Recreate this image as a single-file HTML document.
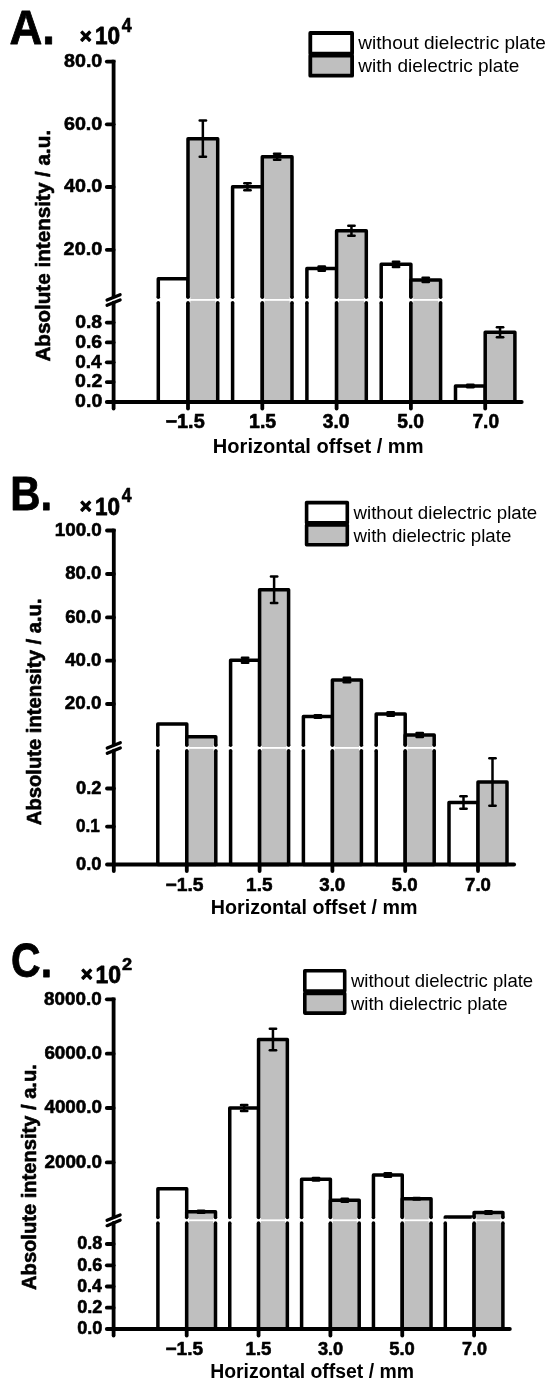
<!DOCTYPE html>
<html><head><meta charset="utf-8"><title>Figure</title>
<style>html,body{margin:0;padding:0;background:#fff}svg{display:block}text{font-family:"Liberation Sans",sans-serif;fill:#000}</style>
</head><body>
<svg width="550" height="1388" viewBox="0 0 550 1388">
<rect width="550" height="1388" fill="#fff"/>
<rect x="158.30" y="278.70" width="29.70" height="123.30" fill="#fff" stroke="#000" stroke-width="3.5" stroke-linejoin="round"/>
<rect x="188.00" y="138.70" width="29.70" height="263.30" fill="#bfbfbf" stroke="#000" stroke-width="3.5" stroke-linejoin="round"/>
<rect x="232.60" y="186.70" width="29.70" height="215.30" fill="#fff" stroke="#000" stroke-width="3.5" stroke-linejoin="round"/>
<rect x="262.30" y="156.70" width="29.70" height="245.30" fill="#bfbfbf" stroke="#000" stroke-width="3.5" stroke-linejoin="round"/>
<rect x="306.90" y="268.60" width="29.70" height="133.40" fill="#fff" stroke="#000" stroke-width="3.5" stroke-linejoin="round"/>
<rect x="336.60" y="230.80" width="29.70" height="171.20" fill="#bfbfbf" stroke="#000" stroke-width="3.5" stroke-linejoin="round"/>
<rect x="381.20" y="264.30" width="29.70" height="137.70" fill="#fff" stroke="#000" stroke-width="3.5" stroke-linejoin="round"/>
<rect x="410.90" y="279.90" width="29.70" height="122.10" fill="#bfbfbf" stroke="#000" stroke-width="3.5" stroke-linejoin="round"/>
<rect x="455.50" y="386.00" width="29.70" height="16.00" fill="#fff" stroke="#000" stroke-width="3.5" stroke-linejoin="round"/>
<rect x="485.20" y="332.20" width="29.70" height="69.80" fill="#bfbfbf" stroke="#000" stroke-width="3.5" stroke-linejoin="round"/>
<rect x="156.10" y="299.00" width="63.80" height="1.8" fill="#fff"/>
<rect x="155.90" y="297.10" width="4.8" height="5.60" fill="#fff"/>
<circle cx="158.30" cy="297.15" r="1.75" fill="#000"/>
<circle cx="158.30" cy="302.65" r="1.75" fill="#000"/>
<rect x="185.60" y="297.10" width="4.8" height="5.60" fill="#fff"/>
<circle cx="188.00" cy="297.15" r="1.75" fill="#000"/>
<circle cx="188.00" cy="302.65" r="1.75" fill="#000"/>
<rect x="215.30" y="297.10" width="4.8" height="5.60" fill="#fff"/>
<circle cx="217.70" cy="297.15" r="1.75" fill="#000"/>
<circle cx="217.70" cy="302.65" r="1.75" fill="#000"/>
<rect x="230.40" y="299.00" width="63.80" height="1.8" fill="#fff"/>
<rect x="230.20" y="297.10" width="4.8" height="5.60" fill="#fff"/>
<circle cx="232.60" cy="297.15" r="1.75" fill="#000"/>
<circle cx="232.60" cy="302.65" r="1.75" fill="#000"/>
<rect x="259.90" y="297.10" width="4.8" height="5.60" fill="#fff"/>
<circle cx="262.30" cy="297.15" r="1.75" fill="#000"/>
<circle cx="262.30" cy="302.65" r="1.75" fill="#000"/>
<rect x="289.60" y="297.10" width="4.8" height="5.60" fill="#fff"/>
<circle cx="292.00" cy="297.15" r="1.75" fill="#000"/>
<circle cx="292.00" cy="302.65" r="1.75" fill="#000"/>
<rect x="304.70" y="299.00" width="63.80" height="1.8" fill="#fff"/>
<rect x="304.50" y="297.10" width="4.8" height="5.60" fill="#fff"/>
<circle cx="306.90" cy="297.15" r="1.75" fill="#000"/>
<circle cx="306.90" cy="302.65" r="1.75" fill="#000"/>
<rect x="334.20" y="297.10" width="4.8" height="5.60" fill="#fff"/>
<circle cx="336.60" cy="297.15" r="1.75" fill="#000"/>
<circle cx="336.60" cy="302.65" r="1.75" fill="#000"/>
<rect x="363.90" y="297.10" width="4.8" height="5.60" fill="#fff"/>
<circle cx="366.30" cy="297.15" r="1.75" fill="#000"/>
<circle cx="366.30" cy="302.65" r="1.75" fill="#000"/>
<rect x="379.00" y="299.00" width="63.80" height="1.8" fill="#fff"/>
<rect x="378.80" y="297.10" width="4.8" height="5.60" fill="#fff"/>
<circle cx="381.20" cy="297.15" r="1.75" fill="#000"/>
<circle cx="381.20" cy="302.65" r="1.75" fill="#000"/>
<rect x="408.50" y="297.10" width="4.8" height="5.60" fill="#fff"/>
<circle cx="410.90" cy="297.15" r="1.75" fill="#000"/>
<circle cx="410.90" cy="302.65" r="1.75" fill="#000"/>
<rect x="438.20" y="297.10" width="4.8" height="5.60" fill="#fff"/>
<circle cx="440.60" cy="297.15" r="1.75" fill="#000"/>
<circle cx="440.60" cy="302.65" r="1.75" fill="#000"/>
<line x1="202.85" y1="120.55" x2="202.85" y2="156.85" stroke="#000" stroke-width="2.5" stroke-linecap="butt"/>
<line x1="199.70" y1="120.55" x2="206.00" y2="120.55" stroke="#000" stroke-width="2.5" stroke-linecap="round"/>
<line x1="199.70" y1="156.85" x2="206.00" y2="156.85" stroke="#000" stroke-width="2.5" stroke-linecap="round"/>
<line x1="247.45" y1="183.15" x2="247.45" y2="190.25" stroke="#000" stroke-width="2.5" stroke-linecap="butt"/>
<line x1="244.30" y1="183.15" x2="250.60" y2="183.15" stroke="#000" stroke-width="2.5" stroke-linecap="round"/>
<line x1="244.30" y1="190.25" x2="250.60" y2="190.25" stroke="#000" stroke-width="2.5" stroke-linecap="round"/>
<line x1="277.15" y1="153.65" x2="277.15" y2="159.75" stroke="#000" stroke-width="2.5" stroke-linecap="butt"/>
<line x1="274.00" y1="153.65" x2="280.30" y2="153.65" stroke="#000" stroke-width="2.5" stroke-linecap="round"/>
<line x1="274.00" y1="159.75" x2="280.30" y2="159.75" stroke="#000" stroke-width="2.5" stroke-linecap="round"/>
<line x1="321.75" y1="266.55" x2="321.75" y2="270.65" stroke="#000" stroke-width="2.5" stroke-linecap="butt"/>
<line x1="318.60" y1="266.55" x2="324.90" y2="266.55" stroke="#000" stroke-width="2.5" stroke-linecap="round"/>
<line x1="318.60" y1="270.65" x2="324.90" y2="270.65" stroke="#000" stroke-width="2.5" stroke-linecap="round"/>
<line x1="351.45" y1="225.75" x2="351.45" y2="235.85" stroke="#000" stroke-width="2.5" stroke-linecap="butt"/>
<line x1="348.30" y1="225.75" x2="354.60" y2="225.75" stroke="#000" stroke-width="2.5" stroke-linecap="round"/>
<line x1="348.30" y1="235.85" x2="354.60" y2="235.85" stroke="#000" stroke-width="2.5" stroke-linecap="round"/>
<line x1="396.05" y1="261.65" x2="396.05" y2="266.95" stroke="#000" stroke-width="2.5" stroke-linecap="butt"/>
<line x1="392.90" y1="261.65" x2="399.20" y2="261.65" stroke="#000" stroke-width="2.5" stroke-linecap="round"/>
<line x1="392.90" y1="266.95" x2="399.20" y2="266.95" stroke="#000" stroke-width="2.5" stroke-linecap="round"/>
<line x1="425.75" y1="277.75" x2="425.75" y2="282.05" stroke="#000" stroke-width="2.5" stroke-linecap="butt"/>
<line x1="422.60" y1="277.75" x2="428.90" y2="277.75" stroke="#000" stroke-width="2.5" stroke-linecap="round"/>
<line x1="422.60" y1="282.05" x2="428.90" y2="282.05" stroke="#000" stroke-width="2.5" stroke-linecap="round"/>
<line x1="470.35" y1="384.85" x2="470.35" y2="387.15" stroke="#000" stroke-width="2.5" stroke-linecap="butt"/>
<line x1="467.20" y1="384.85" x2="473.50" y2="384.85" stroke="#000" stroke-width="2.5" stroke-linecap="round"/>
<line x1="467.20" y1="387.15" x2="473.50" y2="387.15" stroke="#000" stroke-width="2.5" stroke-linecap="round"/>
<line x1="500.05" y1="327.25" x2="500.05" y2="337.15" stroke="#000" stroke-width="2.5" stroke-linecap="butt"/>
<line x1="496.90" y1="327.25" x2="503.20" y2="327.25" stroke="#000" stroke-width="2.5" stroke-linecap="round"/>
<line x1="496.90" y1="337.15" x2="503.20" y2="337.15" stroke="#000" stroke-width="2.5" stroke-linecap="round"/>
<line x1="113.60" y1="59.80" x2="113.60" y2="297.35" stroke="#000" stroke-width="3.8" stroke-linecap="butt"/>
<line x1="113.60" y1="302.65" x2="113.60" y2="408.60" stroke="#000" stroke-width="3.8" stroke-linecap="round"/>
<line x1="113.60" y1="402.00" x2="521.75" y2="402.00" stroke="#000" stroke-width="3.8" stroke-linecap="round"/>
<line x1="107.10" y1="300.05" x2="120.10" y2="294.65" stroke="#000" stroke-width="3.3" stroke-linecap="round"/>
<line x1="107.10" y1="305.35" x2="120.10" y2="299.95" stroke="#000" stroke-width="3.3" stroke-linecap="round"/>
<line x1="106.80" y1="61.60" x2="113.60" y2="61.60" stroke="#000" stroke-width="3.8" stroke-linecap="round"/>
<text transform="translate(64.07,66.90) scale(1.0226,1)" font-size="19.21" font-weight="bold" stroke="#000" stroke-width="0.6" stroke-linejoin="round">80.0</text>
<line x1="106.80" y1="124.30" x2="113.60" y2="124.30" stroke="#000" stroke-width="3.8" stroke-linecap="round"/>
<text transform="translate(63.97,129.60) scale(1.0253,1)" font-size="19.21" font-weight="bold" stroke="#000" stroke-width="0.6" stroke-linejoin="round">60.0</text>
<line x1="106.80" y1="187.00" x2="113.60" y2="187.00" stroke="#000" stroke-width="3.8" stroke-linecap="round"/>
<text transform="translate(64.01,192.30) scale(1.0241,1)" font-size="19.21" font-weight="bold" stroke="#000" stroke-width="0.6" stroke-linejoin="round">40.0</text>
<line x1="106.80" y1="249.80" x2="113.60" y2="249.80" stroke="#000" stroke-width="3.8" stroke-linecap="round"/>
<text transform="translate(63.61,255.10) scale(1.0349,1)" font-size="19.21" font-weight="bold" stroke="#000" stroke-width="0.6" stroke-linejoin="round">20.0</text>
<line x1="106.80" y1="322.60" x2="113.60" y2="322.60" stroke="#000" stroke-width="3.8" stroke-linecap="round"/>
<text transform="translate(75.13,327.90) scale(1.0093,1)" font-size="19.21" font-weight="bold" stroke="#000" stroke-width="0.6" stroke-linejoin="round">0.8</text>
<line x1="106.80" y1="342.40" x2="113.60" y2="342.40" stroke="#000" stroke-width="3.8" stroke-linecap="round"/>
<text transform="translate(75.13,347.70) scale(1.0130,1)" font-size="19.21" font-weight="bold" stroke="#000" stroke-width="0.6" stroke-linejoin="round">0.6</text>
<line x1="106.80" y1="362.30" x2="113.60" y2="362.30" stroke="#000" stroke-width="3.8" stroke-linecap="round"/>
<text transform="translate(75.14,367.60) scale(0.9909,1)" font-size="19.21" font-weight="bold" stroke="#000" stroke-width="0.6" stroke-linejoin="round">0.4</text>
<line x1="106.80" y1="382.10" x2="113.60" y2="382.10" stroke="#000" stroke-width="3.8" stroke-linecap="round"/>
<text transform="translate(75.12,387.40) scale(1.0168,1)" font-size="19.21" font-weight="bold" stroke="#000" stroke-width="0.6" stroke-linejoin="round">0.2</text>
<line x1="106.80" y1="402.00" x2="113.60" y2="402.00" stroke="#000" stroke-width="3.8" stroke-linecap="round"/>
<text transform="translate(75.12,407.30) scale(1.0168,1)" font-size="19.21" font-weight="bold" stroke="#000" stroke-width="0.6" stroke-linejoin="round">0.0</text>
<line x1="188.00" y1="402.00" x2="188.00" y2="408.60" stroke="#000" stroke-width="3.8" stroke-linecap="round"/>
<text transform="translate(165.46,428.20) scale(1.0116,1)" font-size="19.64" font-weight="bold" stroke="#000" stroke-width="0.6" stroke-linejoin="round">−1.5</text>
<line x1="262.30" y1="402.00" x2="262.30" y2="408.60" stroke="#000" stroke-width="3.8" stroke-linecap="round"/>
<text transform="translate(249.08,428.20) scale(0.9951,1)" font-size="19.64" font-weight="bold" stroke="#000" stroke-width="0.6" stroke-linejoin="round">1.5</text>
<line x1="336.60" y1="402.00" x2="336.60" y2="408.60" stroke="#000" stroke-width="3.8" stroke-linecap="round"/>
<text transform="translate(322.87,428.20) scale(0.9888,1)" font-size="19.35" font-weight="bold" stroke="#000" stroke-width="0.6" stroke-linejoin="round">3.0</text>
<line x1="410.90" y1="402.00" x2="410.90" y2="408.60" stroke="#000" stroke-width="3.8" stroke-linecap="round"/>
<text transform="translate(397.32,428.20) scale(0.9943,1)" font-size="19.35" font-weight="bold" stroke="#000" stroke-width="0.6" stroke-linejoin="round">5.0</text>
<line x1="485.20" y1="402.00" x2="485.20" y2="408.60" stroke="#000" stroke-width="3.8" stroke-linecap="round"/>
<text transform="translate(472.48,428.20) scale(0.9882,1)" font-size="19.35" font-weight="bold" stroke="#000" stroke-width="0.6" stroke-linejoin="round">7.0</text>
<text transform="translate(212.85,452.70) scale(0.9718,1)" font-size="20.65" font-weight="bold">Horizontal offset / mm</text>
<text transform="translate(50.30,361.61) rotate(-90) scale(1.0071,1)" font-size="20.51" font-weight="bold" stroke="#000" stroke-width="0.6" stroke-linejoin="round">Absolute intensity / a.u.</text>
<text transform="translate(9.45,43.90) scale(0.9553,1)" font-size="47.56" font-weight="bold" stroke="#000" stroke-width="0.8" stroke-linejoin="round">A.</text>
<text transform="translate(80.12,42.65) scale(1.0136,1)" font-size="19.40" font-weight="bold" stroke="#000" stroke-width="1.3" stroke-linejoin="round">×</text>
<text transform="translate(94.96,44.30) scale(0.9268,1)" font-size="24.37" font-weight="bold" stroke="#000" stroke-width="0.8" stroke-linejoin="round">10</text>
<text transform="translate(121.70,31.70) scale(0.8969,1)" font-size="19.93" font-weight="bold" stroke="#000" stroke-width="0.6" stroke-linejoin="round">4</text>
<rect x="310.30" y="33.00" width="41.80" height="20.60" fill="#fff" stroke="#000" stroke-width="3.8" stroke-linejoin="round"/>
<rect x="310.30" y="55.60" width="41.80" height="20.10" fill="#bfbfbf" stroke="#000" stroke-width="3.8" stroke-linejoin="round"/>
<text transform="translate(358.30,48.50) scale(1.0161,1)" font-size="18.76" font-weight="normal">without dielectric plate</text>
<text transform="translate(358.30,72.00) scale(1.0167,1)" font-size="18.76" font-weight="normal">with dielectric plate</text>
<rect x="157.80" y="724.00" width="29.00" height="140.50" fill="#fff" stroke="#000" stroke-width="3.5" stroke-linejoin="round"/>
<rect x="186.80" y="736.80" width="29.00" height="127.70" fill="#bfbfbf" stroke="#000" stroke-width="3.5" stroke-linejoin="round"/>
<rect x="230.60" y="660.20" width="29.00" height="204.30" fill="#fff" stroke="#000" stroke-width="3.5" stroke-linejoin="round"/>
<rect x="259.60" y="589.80" width="29.00" height="274.70" fill="#bfbfbf" stroke="#000" stroke-width="3.5" stroke-linejoin="round"/>
<rect x="303.40" y="716.60" width="29.00" height="147.90" fill="#fff" stroke="#000" stroke-width="3.5" stroke-linejoin="round"/>
<rect x="332.40" y="679.90" width="29.00" height="184.60" fill="#bfbfbf" stroke="#000" stroke-width="3.5" stroke-linejoin="round"/>
<rect x="376.20" y="714.00" width="29.00" height="150.50" fill="#fff" stroke="#000" stroke-width="3.5" stroke-linejoin="round"/>
<rect x="405.20" y="735.00" width="29.00" height="129.50" fill="#bfbfbf" stroke="#000" stroke-width="3.5" stroke-linejoin="round"/>
<rect x="449.00" y="802.50" width="29.00" height="62.00" fill="#fff" stroke="#000" stroke-width="3.5" stroke-linejoin="round"/>
<rect x="478.00" y="782.00" width="29.00" height="82.50" fill="#bfbfbf" stroke="#000" stroke-width="3.5" stroke-linejoin="round"/>
<rect x="155.60" y="747.00" width="62.40" height="1.8" fill="#fff"/>
<rect x="155.40" y="745.10" width="4.8" height="5.60" fill="#fff"/>
<circle cx="157.80" cy="745.15" r="1.75" fill="#000"/>
<circle cx="157.80" cy="750.65" r="1.75" fill="#000"/>
<rect x="184.40" y="745.10" width="4.8" height="5.60" fill="#fff"/>
<circle cx="186.80" cy="745.15" r="1.75" fill="#000"/>
<circle cx="186.80" cy="750.65" r="1.75" fill="#000"/>
<rect x="213.40" y="745.10" width="4.8" height="5.60" fill="#fff"/>
<circle cx="215.80" cy="745.15" r="1.75" fill="#000"/>
<circle cx="215.80" cy="750.65" r="1.75" fill="#000"/>
<rect x="228.40" y="747.00" width="62.40" height="1.8" fill="#fff"/>
<rect x="228.20" y="745.10" width="4.8" height="5.60" fill="#fff"/>
<circle cx="230.60" cy="745.15" r="1.75" fill="#000"/>
<circle cx="230.60" cy="750.65" r="1.75" fill="#000"/>
<rect x="257.20" y="745.10" width="4.8" height="5.60" fill="#fff"/>
<circle cx="259.60" cy="745.15" r="1.75" fill="#000"/>
<circle cx="259.60" cy="750.65" r="1.75" fill="#000"/>
<rect x="286.20" y="745.10" width="4.8" height="5.60" fill="#fff"/>
<circle cx="288.60" cy="745.15" r="1.75" fill="#000"/>
<circle cx="288.60" cy="750.65" r="1.75" fill="#000"/>
<rect x="301.20" y="747.00" width="62.40" height="1.8" fill="#fff"/>
<rect x="301.00" y="745.10" width="4.8" height="5.60" fill="#fff"/>
<circle cx="303.40" cy="745.15" r="1.75" fill="#000"/>
<circle cx="303.40" cy="750.65" r="1.75" fill="#000"/>
<rect x="330.00" y="745.10" width="4.8" height="5.60" fill="#fff"/>
<circle cx="332.40" cy="745.15" r="1.75" fill="#000"/>
<circle cx="332.40" cy="750.65" r="1.75" fill="#000"/>
<rect x="359.00" y="745.10" width="4.8" height="5.60" fill="#fff"/>
<circle cx="361.40" cy="745.15" r="1.75" fill="#000"/>
<circle cx="361.40" cy="750.65" r="1.75" fill="#000"/>
<rect x="374.00" y="747.00" width="62.40" height="1.8" fill="#fff"/>
<rect x="373.80" y="745.10" width="4.8" height="5.60" fill="#fff"/>
<circle cx="376.20" cy="745.15" r="1.75" fill="#000"/>
<circle cx="376.20" cy="750.65" r="1.75" fill="#000"/>
<rect x="402.80" y="745.10" width="4.8" height="5.60" fill="#fff"/>
<circle cx="405.20" cy="745.15" r="1.75" fill="#000"/>
<circle cx="405.20" cy="750.65" r="1.75" fill="#000"/>
<rect x="431.80" y="745.10" width="4.8" height="5.60" fill="#fff"/>
<circle cx="434.20" cy="745.15" r="1.75" fill="#000"/>
<circle cx="434.20" cy="750.65" r="1.75" fill="#000"/>
<line x1="245.10" y1="657.65" x2="245.10" y2="662.75" stroke="#000" stroke-width="2.5" stroke-linecap="butt"/>
<line x1="241.95" y1="657.65" x2="248.25" y2="657.65" stroke="#000" stroke-width="2.5" stroke-linecap="round"/>
<line x1="241.95" y1="662.75" x2="248.25" y2="662.75" stroke="#000" stroke-width="2.5" stroke-linecap="round"/>
<line x1="274.10" y1="576.55" x2="274.10" y2="603.05" stroke="#000" stroke-width="2.5" stroke-linecap="butt"/>
<line x1="270.95" y1="576.55" x2="277.25" y2="576.55" stroke="#000" stroke-width="2.5" stroke-linecap="round"/>
<line x1="270.95" y1="603.05" x2="277.25" y2="603.05" stroke="#000" stroke-width="2.5" stroke-linecap="round"/>
<line x1="317.90" y1="715.35" x2="317.90" y2="717.85" stroke="#000" stroke-width="2.5" stroke-linecap="butt"/>
<line x1="314.75" y1="715.35" x2="321.05" y2="715.35" stroke="#000" stroke-width="2.5" stroke-linecap="round"/>
<line x1="314.75" y1="717.85" x2="321.05" y2="717.85" stroke="#000" stroke-width="2.5" stroke-linecap="round"/>
<line x1="346.90" y1="677.65" x2="346.90" y2="682.15" stroke="#000" stroke-width="2.5" stroke-linecap="butt"/>
<line x1="343.75" y1="677.65" x2="350.05" y2="677.65" stroke="#000" stroke-width="2.5" stroke-linecap="round"/>
<line x1="343.75" y1="682.15" x2="350.05" y2="682.15" stroke="#000" stroke-width="2.5" stroke-linecap="round"/>
<line x1="390.70" y1="712.25" x2="390.70" y2="715.75" stroke="#000" stroke-width="2.5" stroke-linecap="butt"/>
<line x1="387.55" y1="712.25" x2="393.85" y2="712.25" stroke="#000" stroke-width="2.5" stroke-linecap="round"/>
<line x1="387.55" y1="715.75" x2="393.85" y2="715.75" stroke="#000" stroke-width="2.5" stroke-linecap="round"/>
<line x1="419.70" y1="732.95" x2="419.70" y2="737.05" stroke="#000" stroke-width="2.5" stroke-linecap="butt"/>
<line x1="416.55" y1="732.95" x2="422.85" y2="732.95" stroke="#000" stroke-width="2.5" stroke-linecap="round"/>
<line x1="416.55" y1="737.05" x2="422.85" y2="737.05" stroke="#000" stroke-width="2.5" stroke-linecap="round"/>
<line x1="463.50" y1="796.15" x2="463.50" y2="808.85" stroke="#000" stroke-width="2.5" stroke-linecap="butt"/>
<line x1="460.35" y1="796.15" x2="466.65" y2="796.15" stroke="#000" stroke-width="2.5" stroke-linecap="round"/>
<line x1="460.35" y1="808.85" x2="466.65" y2="808.85" stroke="#000" stroke-width="2.5" stroke-linecap="round"/>
<line x1="492.50" y1="758.25" x2="492.50" y2="805.75" stroke="#000" stroke-width="2.5" stroke-linecap="butt"/>
<line x1="489.35" y1="758.25" x2="495.65" y2="758.25" stroke="#000" stroke-width="2.5" stroke-linecap="round"/>
<line x1="489.35" y1="805.75" x2="495.65" y2="805.75" stroke="#000" stroke-width="2.5" stroke-linecap="round"/>
<line x1="113.80" y1="528.80" x2="113.80" y2="745.35" stroke="#000" stroke-width="3.8" stroke-linecap="butt"/>
<line x1="113.80" y1="750.65" x2="113.80" y2="871.10" stroke="#000" stroke-width="3.8" stroke-linecap="round"/>
<line x1="113.80" y1="864.50" x2="514.15" y2="864.50" stroke="#000" stroke-width="3.8" stroke-linecap="round"/>
<line x1="107.30" y1="748.05" x2="120.30" y2="742.65" stroke="#000" stroke-width="3.3" stroke-linecap="round"/>
<line x1="107.30" y1="753.35" x2="120.30" y2="747.95" stroke="#000" stroke-width="3.3" stroke-linecap="round"/>
<line x1="107.00" y1="530.50" x2="113.80" y2="530.50" stroke="#000" stroke-width="3.8" stroke-linecap="round"/>
<text transform="translate(54.72,535.70) scale(1.0027,1)" font-size="18.78" font-weight="bold" stroke="#000" stroke-width="0.6" stroke-linejoin="round">100.0</text>
<line x1="107.00" y1="574.00" x2="113.80" y2="574.00" stroke="#000" stroke-width="3.8" stroke-linecap="round"/>
<text transform="translate(65.29,579.20) scale(0.9897,1)" font-size="18.78" font-weight="bold" stroke="#000" stroke-width="0.6" stroke-linejoin="round">80.0</text>
<line x1="107.00" y1="617.40" x2="113.80" y2="617.40" stroke="#000" stroke-width="3.8" stroke-linecap="round"/>
<text transform="translate(65.20,622.60) scale(0.9923,1)" font-size="18.78" font-weight="bold" stroke="#000" stroke-width="0.6" stroke-linejoin="round">60.0</text>
<line x1="107.00" y1="660.70" x2="113.80" y2="660.70" stroke="#000" stroke-width="3.8" stroke-linecap="round"/>
<text transform="translate(65.22,665.90) scale(0.9918,1)" font-size="18.78" font-weight="bold" stroke="#000" stroke-width="0.6" stroke-linejoin="round">40.0</text>
<line x1="107.00" y1="704.00" x2="113.80" y2="704.00" stroke="#000" stroke-width="3.8" stroke-linecap="round"/>
<text transform="translate(64.84,709.20) scale(1.0022,1)" font-size="18.78" font-weight="bold" stroke="#000" stroke-width="0.6" stroke-linejoin="round">20.0</text>
<line x1="107.00" y1="788.50" x2="113.80" y2="788.50" stroke="#000" stroke-width="3.8" stroke-linecap="round"/>
<text transform="translate(75.96,793.70) scale(0.9761,1)" font-size="18.78" font-weight="bold" stroke="#000" stroke-width="0.6" stroke-linejoin="round">0.2</text>
<line x1="107.00" y1="826.60" x2="113.80" y2="826.60" stroke="#000" stroke-width="3.8" stroke-linecap="round"/>
<text transform="translate(75.99,831.80) scale(0.9120,1)" font-size="18.78" font-weight="bold" stroke="#000" stroke-width="0.6" stroke-linejoin="round">0.1</text>
<line x1="107.00" y1="864.50" x2="113.80" y2="864.50" stroke="#000" stroke-width="3.8" stroke-linecap="round"/>
<text transform="translate(75.96,869.70) scale(0.9761,1)" font-size="18.78" font-weight="bold" stroke="#000" stroke-width="0.6" stroke-linejoin="round">0.0</text>
<line x1="186.80" y1="864.50" x2="186.80" y2="871.10" stroke="#000" stroke-width="3.8" stroke-linecap="round"/>
<text transform="translate(165.49,890.70) scale(1.0095,1)" font-size="19.05" font-weight="bold" stroke="#000" stroke-width="0.6" stroke-linejoin="round">−1.5</text>
<line x1="259.60" y1="864.50" x2="259.60" y2="871.10" stroke="#000" stroke-width="3.8" stroke-linecap="round"/>
<text transform="translate(246.12,890.70) scale(0.9933,1)" font-size="19.05" font-weight="bold" stroke="#000" stroke-width="0.6" stroke-linejoin="round">1.5</text>
<line x1="332.40" y1="864.50" x2="332.40" y2="871.10" stroke="#000" stroke-width="3.8" stroke-linecap="round"/>
<text transform="translate(319.28,890.70) scale(0.9948,1)" font-size="18.78" font-weight="bold" stroke="#000" stroke-width="0.6" stroke-linejoin="round">3.0</text>
<line x1="405.20" y1="864.50" x2="405.20" y2="871.10" stroke="#000" stroke-width="3.8" stroke-linecap="round"/>
<text transform="translate(391.74,890.70) scale(0.9925,1)" font-size="18.78" font-weight="bold" stroke="#000" stroke-width="0.6" stroke-linejoin="round">5.0</text>
<line x1="478.00" y1="864.50" x2="478.00" y2="871.10" stroke="#000" stroke-width="3.8" stroke-linecap="round"/>
<text transform="translate(465.11,890.70) scale(0.9858,1)" font-size="18.78" font-weight="bold" stroke="#000" stroke-width="0.6" stroke-linejoin="round">7.0</text>
<text transform="translate(210.77,914.40) scale(0.9812,1)" font-size="20.07" font-weight="bold">Horizontal offset / mm</text>
<text transform="translate(40.60,825.20) rotate(-90) scale(1.0075,1)" font-size="20.07" font-weight="bold" stroke="#000" stroke-width="0.6" stroke-linejoin="round">Absolute intensity / a.u.</text>
<text transform="translate(10.23,509.60) scale(0.8798,1)" font-size="47.56" font-weight="bold" stroke="#000" stroke-width="0.8" stroke-linejoin="round">B.</text>
<text transform="translate(80.12,513.05) scale(1.0136,1)" font-size="19.40" font-weight="bold" stroke="#000" stroke-width="1.3" stroke-linejoin="round">×</text>
<text transform="translate(94.96,514.70) scale(0.9229,1)" font-size="24.37" font-weight="bold" stroke="#000" stroke-width="0.8" stroke-linejoin="round">10</text>
<text transform="translate(121.70,502.00) scale(0.9005,1)" font-size="19.64" font-weight="bold" stroke="#000" stroke-width="0.6" stroke-linejoin="round">4</text>
<rect x="306.60" y="502.60" width="40.70" height="20.30" fill="#fff" stroke="#000" stroke-width="3.6" stroke-linejoin="round"/>
<rect x="306.60" y="525.00" width="40.70" height="19.80" fill="#bfbfbf" stroke="#000" stroke-width="3.6" stroke-linejoin="round"/>
<text transform="translate(353.50,518.70) scale(1.0108,1)" font-size="18.48" font-weight="normal">without dielectric plate</text>
<text transform="translate(353.50,541.80) scale(1.0113,1)" font-size="18.48" font-weight="normal">with dielectric plate</text>
<rect x="157.90" y="1188.70" width="28.80" height="140.30" fill="#fff" stroke="#000" stroke-width="3.5" stroke-linejoin="round"/>
<rect x="186.70" y="1211.80" width="28.80" height="117.20" fill="#bfbfbf" stroke="#000" stroke-width="3.5" stroke-linejoin="round"/>
<rect x="229.75" y="1108.00" width="28.80" height="221.00" fill="#fff" stroke="#000" stroke-width="3.5" stroke-linejoin="round"/>
<rect x="258.55" y="1039.60" width="28.80" height="289.40" fill="#bfbfbf" stroke="#000" stroke-width="3.5" stroke-linejoin="round"/>
<rect x="301.60" y="1179.20" width="28.80" height="149.80" fill="#fff" stroke="#000" stroke-width="3.5" stroke-linejoin="round"/>
<rect x="330.40" y="1200.20" width="28.80" height="128.80" fill="#bfbfbf" stroke="#000" stroke-width="3.5" stroke-linejoin="round"/>
<rect x="373.45" y="1174.90" width="28.80" height="154.10" fill="#fff" stroke="#000" stroke-width="3.5" stroke-linejoin="round"/>
<rect x="402.25" y="1198.80" width="28.80" height="130.20" fill="#bfbfbf" stroke="#000" stroke-width="3.5" stroke-linejoin="round"/>
<rect x="445.30" y="1217.00" width="28.80" height="112.00" fill="#fff" stroke="#000" stroke-width="3.5" stroke-linejoin="round"/>
<rect x="474.10" y="1212.50" width="28.80" height="116.50" fill="#bfbfbf" stroke="#000" stroke-width="3.5" stroke-linejoin="round"/>
<rect x="155.70" y="1219.40" width="62.00" height="1.8" fill="#fff"/>
<rect x="155.50" y="1217.50" width="4.8" height="5.60" fill="#fff"/>
<circle cx="157.90" cy="1217.55" r="1.75" fill="#000"/>
<circle cx="157.90" cy="1223.05" r="1.75" fill="#000"/>
<rect x="184.30" y="1217.50" width="4.8" height="5.60" fill="#fff"/>
<circle cx="186.70" cy="1217.55" r="1.75" fill="#000"/>
<circle cx="186.70" cy="1223.05" r="1.75" fill="#000"/>
<rect x="213.10" y="1217.50" width="4.8" height="5.60" fill="#fff"/>
<circle cx="215.50" cy="1217.55" r="1.75" fill="#000"/>
<circle cx="215.50" cy="1223.05" r="1.75" fill="#000"/>
<rect x="227.55" y="1219.40" width="62.00" height="1.8" fill="#fff"/>
<rect x="227.35" y="1217.50" width="4.8" height="5.60" fill="#fff"/>
<circle cx="229.75" cy="1217.55" r="1.75" fill="#000"/>
<circle cx="229.75" cy="1223.05" r="1.75" fill="#000"/>
<rect x="256.15" y="1217.50" width="4.8" height="5.60" fill="#fff"/>
<circle cx="258.55" cy="1217.55" r="1.75" fill="#000"/>
<circle cx="258.55" cy="1223.05" r="1.75" fill="#000"/>
<rect x="284.95" y="1217.50" width="4.8" height="5.60" fill="#fff"/>
<circle cx="287.35" cy="1217.55" r="1.75" fill="#000"/>
<circle cx="287.35" cy="1223.05" r="1.75" fill="#000"/>
<rect x="299.40" y="1219.40" width="62.00" height="1.8" fill="#fff"/>
<rect x="299.20" y="1217.50" width="4.8" height="5.60" fill="#fff"/>
<circle cx="301.60" cy="1217.55" r="1.75" fill="#000"/>
<circle cx="301.60" cy="1223.05" r="1.75" fill="#000"/>
<rect x="328.00" y="1217.50" width="4.8" height="5.60" fill="#fff"/>
<circle cx="330.40" cy="1217.55" r="1.75" fill="#000"/>
<circle cx="330.40" cy="1223.05" r="1.75" fill="#000"/>
<rect x="356.80" y="1217.50" width="4.8" height="5.60" fill="#fff"/>
<circle cx="359.20" cy="1217.55" r="1.75" fill="#000"/>
<circle cx="359.20" cy="1223.05" r="1.75" fill="#000"/>
<rect x="371.25" y="1219.40" width="62.00" height="1.8" fill="#fff"/>
<rect x="371.05" y="1217.50" width="4.8" height="5.60" fill="#fff"/>
<circle cx="373.45" cy="1217.55" r="1.75" fill="#000"/>
<circle cx="373.45" cy="1223.05" r="1.75" fill="#000"/>
<rect x="399.85" y="1217.50" width="4.8" height="5.60" fill="#fff"/>
<circle cx="402.25" cy="1217.55" r="1.75" fill="#000"/>
<circle cx="402.25" cy="1223.05" r="1.75" fill="#000"/>
<rect x="428.65" y="1217.50" width="4.8" height="5.60" fill="#fff"/>
<circle cx="431.05" cy="1217.55" r="1.75" fill="#000"/>
<circle cx="431.05" cy="1223.05" r="1.75" fill="#000"/>
<rect x="443.10" y="1219.40" width="62.00" height="1.8" fill="#fff"/>
<rect x="442.90" y="1218.75" width="4.8" height="4.35" fill="#fff"/>
<circle cx="445.30" cy="1223.05" r="1.75" fill="#000"/>
<rect x="471.70" y="1217.50" width="4.8" height="5.60" fill="#fff"/>
<circle cx="474.10" cy="1217.55" r="1.75" fill="#000"/>
<circle cx="474.10" cy="1223.05" r="1.75" fill="#000"/>
<rect x="500.50" y="1217.50" width="4.8" height="5.60" fill="#fff"/>
<circle cx="502.90" cy="1217.55" r="1.75" fill="#000"/>
<circle cx="502.90" cy="1223.05" r="1.75" fill="#000"/>
<line x1="201.10" y1="1210.85" x2="201.10" y2="1212.75" stroke="#000" stroke-width="2.5" stroke-linecap="butt"/>
<line x1="197.95" y1="1210.85" x2="204.25" y2="1210.85" stroke="#000" stroke-width="2.5" stroke-linecap="round"/>
<line x1="197.95" y1="1212.75" x2="204.25" y2="1212.75" stroke="#000" stroke-width="2.5" stroke-linecap="round"/>
<line x1="244.15" y1="1105.05" x2="244.15" y2="1110.95" stroke="#000" stroke-width="2.5" stroke-linecap="butt"/>
<line x1="241.00" y1="1105.05" x2="247.30" y2="1105.05" stroke="#000" stroke-width="2.5" stroke-linecap="round"/>
<line x1="241.00" y1="1110.95" x2="247.30" y2="1110.95" stroke="#000" stroke-width="2.5" stroke-linecap="round"/>
<line x1="272.95" y1="1028.85" x2="272.95" y2="1050.35" stroke="#000" stroke-width="2.5" stroke-linecap="butt"/>
<line x1="269.80" y1="1028.85" x2="276.10" y2="1028.85" stroke="#000" stroke-width="2.5" stroke-linecap="round"/>
<line x1="269.80" y1="1050.35" x2="276.10" y2="1050.35" stroke="#000" stroke-width="2.5" stroke-linecap="round"/>
<line x1="316.00" y1="1177.95" x2="316.00" y2="1180.45" stroke="#000" stroke-width="2.5" stroke-linecap="butt"/>
<line x1="312.85" y1="1177.95" x2="319.15" y2="1177.95" stroke="#000" stroke-width="2.5" stroke-linecap="round"/>
<line x1="312.85" y1="1180.45" x2="319.15" y2="1180.45" stroke="#000" stroke-width="2.5" stroke-linecap="round"/>
<line x1="344.80" y1="1198.75" x2="344.80" y2="1201.65" stroke="#000" stroke-width="2.5" stroke-linecap="butt"/>
<line x1="341.65" y1="1198.75" x2="347.95" y2="1198.75" stroke="#000" stroke-width="2.5" stroke-linecap="round"/>
<line x1="341.65" y1="1201.65" x2="347.95" y2="1201.65" stroke="#000" stroke-width="2.5" stroke-linecap="round"/>
<line x1="387.85" y1="1173.15" x2="387.85" y2="1176.65" stroke="#000" stroke-width="2.5" stroke-linecap="butt"/>
<line x1="384.70" y1="1173.15" x2="391.00" y2="1173.15" stroke="#000" stroke-width="2.5" stroke-linecap="round"/>
<line x1="384.70" y1="1176.65" x2="391.00" y2="1176.65" stroke="#000" stroke-width="2.5" stroke-linecap="round"/>
<line x1="416.65" y1="1198.05" x2="416.65" y2="1199.55" stroke="#000" stroke-width="2.5" stroke-linecap="butt"/>
<line x1="413.50" y1="1198.05" x2="419.80" y2="1198.05" stroke="#000" stroke-width="2.5" stroke-linecap="round"/>
<line x1="413.50" y1="1199.55" x2="419.80" y2="1199.55" stroke="#000" stroke-width="2.5" stroke-linecap="round"/>
<line x1="488.50" y1="1211.25" x2="488.50" y2="1213.75" stroke="#000" stroke-width="2.5" stroke-linecap="butt"/>
<line x1="485.35" y1="1211.25" x2="491.65" y2="1211.25" stroke="#000" stroke-width="2.5" stroke-linecap="round"/>
<line x1="485.35" y1="1213.75" x2="491.65" y2="1213.75" stroke="#000" stroke-width="2.5" stroke-linecap="round"/>
<line x1="113.60" y1="997.60" x2="113.60" y2="1217.65" stroke="#000" stroke-width="3.8" stroke-linecap="butt"/>
<line x1="113.60" y1="1222.95" x2="113.60" y2="1335.60" stroke="#000" stroke-width="3.8" stroke-linecap="round"/>
<line x1="113.60" y1="1329.00" x2="509.85" y2="1329.00" stroke="#000" stroke-width="3.8" stroke-linecap="round"/>
<line x1="107.10" y1="1220.35" x2="120.10" y2="1214.95" stroke="#000" stroke-width="3.3" stroke-linecap="round"/>
<line x1="107.10" y1="1225.65" x2="120.10" y2="1220.25" stroke="#000" stroke-width="3.3" stroke-linecap="round"/>
<line x1="106.80" y1="999.30" x2="113.60" y2="999.30" stroke="#000" stroke-width="3.8" stroke-linecap="round"/>
<text transform="translate(44.09,1004.50) scale(1.0024,1)" font-size="18.78" font-weight="bold" stroke="#000" stroke-width="0.6" stroke-linejoin="round">8000.0</text>
<line x1="106.80" y1="1053.70" x2="113.60" y2="1053.70" stroke="#000" stroke-width="3.8" stroke-linecap="round"/>
<text transform="translate(44.39,1058.90) scale(1.0041,1)" font-size="18.78" font-weight="bold" stroke="#000" stroke-width="0.6" stroke-linejoin="round">6000.0</text>
<line x1="106.80" y1="1108.00" x2="113.60" y2="1108.00" stroke="#000" stroke-width="3.8" stroke-linecap="round"/>
<text transform="translate(44.42,1113.20) scale(1.0037,1)" font-size="18.78" font-weight="bold" stroke="#000" stroke-width="0.6" stroke-linejoin="round">4000.0</text>
<line x1="106.80" y1="1162.40" x2="113.60" y2="1162.40" stroke="#000" stroke-width="3.8" stroke-linecap="round"/>
<text transform="translate(44.44,1167.60) scale(1.0033,1)" font-size="18.78" font-weight="bold" stroke="#000" stroke-width="0.6" stroke-linejoin="round">2000.0</text>
<line x1="106.80" y1="1244.00" x2="113.60" y2="1244.00" stroke="#000" stroke-width="3.8" stroke-linecap="round"/>
<text transform="translate(77.17,1249.20) scale(0.9610,1)" font-size="18.78" font-weight="bold" stroke="#000" stroke-width="0.6" stroke-linejoin="round">0.8</text>
<line x1="106.80" y1="1265.30" x2="113.60" y2="1265.30" stroke="#000" stroke-width="3.8" stroke-linecap="round"/>
<text transform="translate(77.16,1270.50) scale(0.9645,1)" font-size="18.78" font-weight="bold" stroke="#000" stroke-width="0.6" stroke-linejoin="round">0.6</text>
<line x1="106.80" y1="1286.50" x2="113.60" y2="1286.50" stroke="#000" stroke-width="3.8" stroke-linecap="round"/>
<text transform="translate(77.17,1291.70) scale(0.9435,1)" font-size="18.78" font-weight="bold" stroke="#000" stroke-width="0.6" stroke-linejoin="round">0.4</text>
<line x1="106.80" y1="1307.70" x2="113.60" y2="1307.70" stroke="#000" stroke-width="3.8" stroke-linecap="round"/>
<text transform="translate(77.16,1312.90) scale(0.9681,1)" font-size="18.78" font-weight="bold" stroke="#000" stroke-width="0.6" stroke-linejoin="round">0.2</text>
<line x1="106.80" y1="1329.00" x2="113.60" y2="1329.00" stroke="#000" stroke-width="3.8" stroke-linecap="round"/>
<text transform="translate(77.16,1334.20) scale(0.9681,1)" font-size="18.78" font-weight="bold" stroke="#000" stroke-width="0.6" stroke-linejoin="round">0.0</text>
<line x1="186.70" y1="1329.00" x2="186.70" y2="1335.60" stroke="#000" stroke-width="3.8" stroke-linecap="round"/>
<text transform="translate(165.49,1354.70) scale(0.9986,1)" font-size="19.05" font-weight="bold" stroke="#000" stroke-width="0.6" stroke-linejoin="round">−1.5</text>
<line x1="258.55" y1="1329.00" x2="258.55" y2="1335.60" stroke="#000" stroke-width="3.8" stroke-linecap="round"/>
<text transform="translate(245.53,1354.70) scale(0.9775,1)" font-size="19.05" font-weight="bold" stroke="#000" stroke-width="0.6" stroke-linejoin="round">1.5</text>
<line x1="330.40" y1="1329.00" x2="330.40" y2="1335.60" stroke="#000" stroke-width="3.8" stroke-linecap="round"/>
<text transform="translate(317.88,1354.70) scale(0.9713,1)" font-size="18.78" font-weight="bold" stroke="#000" stroke-width="0.6" stroke-linejoin="round">3.0</text>
<line x1="402.25" y1="1329.00" x2="402.25" y2="1335.60" stroke="#000" stroke-width="3.8" stroke-linecap="round"/>
<text transform="translate(389.34,1354.70) scale(0.9767,1)" font-size="18.78" font-weight="bold" stroke="#000" stroke-width="0.6" stroke-linejoin="round">5.0</text>
<line x1="474.10" y1="1329.00" x2="474.10" y2="1335.60" stroke="#000" stroke-width="3.8" stroke-linecap="round"/>
<text transform="translate(462.02,1354.70) scale(0.9620,1)" font-size="18.78" font-weight="bold" stroke="#000" stroke-width="0.6" stroke-linejoin="round">7.0</text>
<text transform="translate(210.19,1378.00) scale(0.9893,1)" font-size="19.64" font-weight="bold">Horizontal offset / mm</text>
<text transform="translate(36.00,1289.90) rotate(-90) scale(1.0239,1)" font-size="19.64" font-weight="bold" stroke="#000" stroke-width="0.6" stroke-linejoin="round">Absolute intensity / a.u.</text>
<text transform="translate(11.10,977.40) scale(0.8396,1)" font-size="48.75" font-weight="bold" stroke="#000" stroke-width="0.8" stroke-linejoin="round">C.</text>
<text transform="translate(80.91,981.08) scale(0.9955,1)" font-size="19.80" font-weight="bold" stroke="#000" stroke-width="1.3" stroke-linejoin="round">×</text>
<text transform="translate(95.44,982.70) scale(0.9480,1)" font-size="24.23" font-weight="bold" stroke="#000" stroke-width="0.8" stroke-linejoin="round">10</text>
<text transform="translate(121.98,969.50) scale(1.0695,1)" font-size="17.06" font-weight="bold" stroke="#000" stroke-width="0.6" stroke-linejoin="round">2</text>
<rect x="304.80" y="970.80" width="39.90" height="20.20" fill="#fff" stroke="#000" stroke-width="3.6" stroke-linejoin="round"/>
<rect x="304.80" y="993.40" width="39.90" height="19.70" fill="#bfbfbf" stroke="#000" stroke-width="3.6" stroke-linejoin="round"/>
<text transform="translate(350.90,986.90) scale(1.0255,1)" font-size="18.07" font-weight="normal">without dielectric plate</text>
<text transform="translate(350.90,1009.50) scale(1.0259,1)" font-size="18.07" font-weight="normal">with dielectric plate</text>
</svg>
</body></html>
